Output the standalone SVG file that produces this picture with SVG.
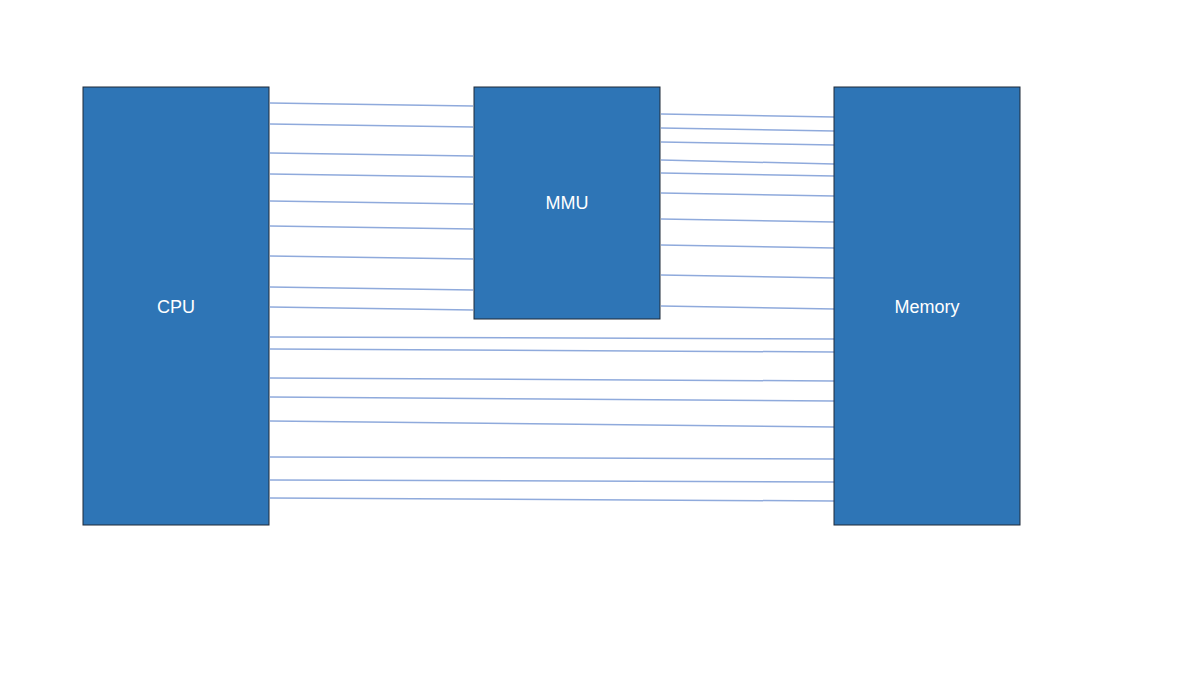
<svg xmlns="http://www.w3.org/2000/svg" width="1200" height="675" viewBox="0 0 1200 675">
<style>
.n{fill:#2e75b6;stroke:#1f2a38;stroke-width:1}
.t{font-family:"Liberation Sans",Arial,sans-serif;font-size:18px;fill:#fff;text-anchor:middle}
.c line{stroke:#8faadc;stroke-width:1.5}
</style>
<rect width="1200" height="675" fill="#fff"/>
<g class="c" id="connectors">
<line x1="270" y1="103" x2="473" y2="106"/>
<line x1="270" y1="124" x2="473" y2="127"/>
<line x1="270" y1="153" x2="473" y2="156"/>
<line x1="270" y1="174" x2="473" y2="177"/>
<line x1="270" y1="201" x2="473" y2="204"/>
<line x1="270" y1="226" x2="473" y2="229"/>
<line x1="270" y1="256" x2="473" y2="259"/>
<line x1="270" y1="287" x2="473" y2="290"/>
<line x1="270" y1="307" x2="473" y2="310"/>
<line x1="661" y1="114" x2="834" y2="117"/>
<line x1="661" y1="128" x2="834" y2="131"/>
<line x1="661" y1="142" x2="834" y2="145"/>
<line x1="661" y1="160" x2="834" y2="164"/>
<line x1="661" y1="173" x2="834" y2="176"/>
<line x1="661" y1="193" x2="834" y2="196"/>
<line x1="661" y1="219" x2="834" y2="222"/>
<line x1="661" y1="245" x2="834" y2="248"/>
<line x1="661" y1="275" x2="834" y2="278"/>
<line x1="661" y1="306" x2="834" y2="309"/>
<line x1="270" y1="337" x2="834" y2="339"/>
<line x1="270" y1="349" x2="834" y2="352"/>
<line x1="270" y1="378" x2="834" y2="381"/>
<line x1="270" y1="397" x2="834" y2="401"/>
<line x1="270" y1="421" x2="834" y2="427"/>
<line x1="270" y1="457" x2="834" y2="459"/>
<line x1="270" y1="480" x2="834" y2="482"/>
<line x1="270" y1="498" x2="834" y2="501"/>
</g>
<g id="cpu"><rect class="n" x="83" y="87" width="186" height="438"/><text class="t" x="176" y="313">CPU</text></g>
<g id="mmu"><rect class="n" x="474" y="87" width="186" height="232"/><text class="t" x="567" y="209">MMU</text></g>
<g id="memory"><rect class="n" x="834" y="87" width="186" height="438"/><text class="t" x="927" y="313">Memory</text></g>
</svg>
